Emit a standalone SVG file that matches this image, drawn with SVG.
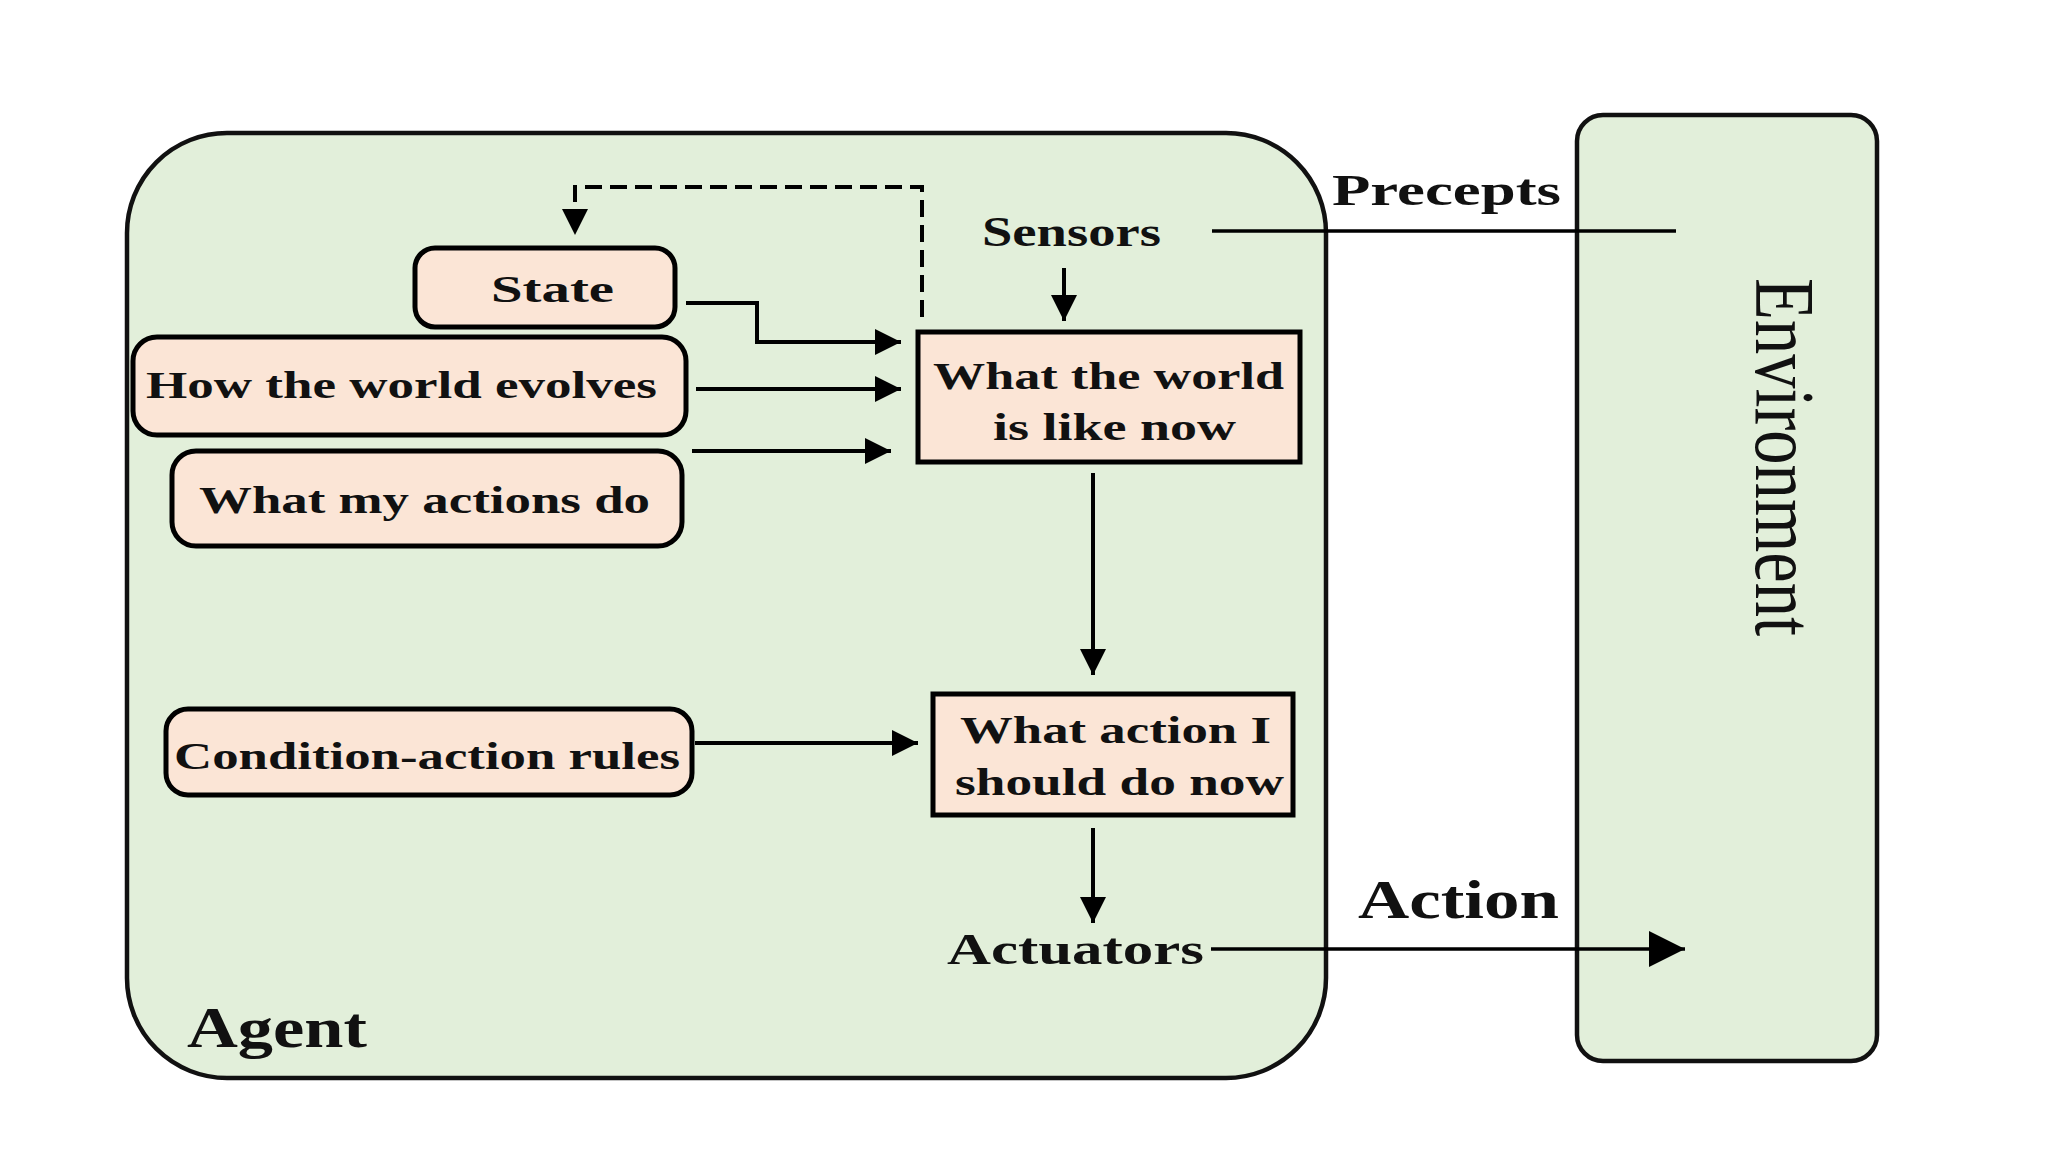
<svg xmlns="http://www.w3.org/2000/svg" width="2048" height="1152" viewBox="0 0 2048 1152">
<defs>
<style>
.container{fill:#e2efda;stroke:#111;stroke-width:4.5}
.node{fill:#fbe5d6;stroke:#000;stroke-width:5}
.t{font-family:"Liberation Serif",serif;font-weight:bold;fill:#111}
.reg{font-weight:normal}
.conn{fill:none;stroke:#000;stroke-width:4}
.thin{fill:none;stroke:#000;stroke-width:3.5}
.dash{fill:none;stroke:#000;stroke-width:4;stroke-dasharray:17 8}
</style>
<marker id="ah" markerUnits="userSpaceOnUse" markerWidth="28" markerHeight="26" refX="26" refY="13" orient="auto">
<path d="M0,0 L26,13 L0,26 Z" fill="#000"/>
</marker>
<marker id="ahBig" markerUnits="userSpaceOnUse" markerWidth="38" markerHeight="36" refX="36" refY="18" orient="auto">
<path d="M0,0 L36,18 L0,36 Z" fill="#000"/>
</marker>
</defs>
<rect width="2048" height="1152" fill="#fff"/>

<g id="agent">
<rect class="container" x="127" y="133" width="1199" height="945" rx="100" ry="100"/>
<text class="t" x="187" y="1047" font-size="56" textLength="180" lengthAdjust="spacingAndGlyphs">Agent</text>
</g>

<g id="environment">
<rect class="container" x="1577" y="115" width="300" height="946" rx="26" ry="26"/>
<text class="t reg" font-size="84" transform="translate(1756,278) rotate(90)" textLength="358" lengthAdjust="spacingAndGlyphs">Environment</text>
</g>

<g id="state">
<rect class="node" x="415" y="248" width="260" height="79" rx="20" ry="20"/>
<text class="t" x="491" y="302" font-size="38" textLength="123" lengthAdjust="spacingAndGlyphs">State</text>
</g>

<g id="how-world-evolves">
<rect class="node" x="133" y="337" width="553" height="98" rx="24" ry="24"/>
<text class="t" x="146" y="398" font-size="38" textLength="511" lengthAdjust="spacingAndGlyphs">How the world evolves</text>
</g>

<g id="what-my-actions-do">
<rect class="node" x="172" y="451" width="510" height="95" rx="24" ry="24"/>
<text class="t" x="199" y="513" font-size="38" textLength="451" lengthAdjust="spacingAndGlyphs">What my actions do</text>
</g>

<g id="condition-action-rules">
<rect class="node" x="166" y="709" width="526" height="86" rx="22" ry="22"/>
<text class="t" x="174" y="769" font-size="38" textLength="506" lengthAdjust="spacingAndGlyphs">Condition-action rules</text>
</g>

<g id="world-now">
<rect class="node" x="918" y="332" width="382" height="130"/>
<text class="t" x="933" y="389" font-size="38" textLength="351" lengthAdjust="spacingAndGlyphs">What the world</text>
<text class="t" x="993" y="440" font-size="38" textLength="243" lengthAdjust="spacingAndGlyphs">is like now</text>
</g>

<g id="action-now">
<rect class="node" x="933" y="694" width="360" height="121"/>
<text class="t" x="960" y="743" font-size="38" textLength="311" lengthAdjust="spacingAndGlyphs">What action I</text>
<text class="t" x="955" y="795" font-size="38" textLength="329" lengthAdjust="spacingAndGlyphs">should do now</text>
</g>

<g id="sensors">
<text class="t" x="982" y="246" font-size="42" textLength="179" lengthAdjust="spacingAndGlyphs">Sensors</text>
</g>

<g id="actuators">
<text class="t" x="947" y="964" font-size="44" textLength="257" lengthAdjust="spacingAndGlyphs">Actuators</text>
</g>

<g id="connectors">
<path class="conn" d="M686,303 H757 V342 H901" marker-end="url(#ah)"/>
<path class="conn" d="M696,389 H901" marker-end="url(#ah)"/>
<path class="conn" d="M692,451 H891" marker-end="url(#ah)"/>
<path class="dash" d="M922,317 V187 H575 V235" marker-end="url(#ah)"/>
<path class="conn" d="M1064,268 V321" marker-end="url(#ah)"/>
<path class="conn" d="M1093,473 V675" marker-end="url(#ah)"/>
<path class="conn" d="M695,743 H918" marker-end="url(#ah)"/>
<path class="conn" d="M1093,828 V923" marker-end="url(#ah)"/>
<path class="thin" d="M1212,231 H1676"/>
<path class="thin" d="M1211,949 H1685" marker-end="url(#ahBig)"/>
<text class="t" x="1332" y="205" font-size="44" textLength="229" lengthAdjust="spacingAndGlyphs">Precepts</text>
<text class="t" x="1358" y="918" font-size="54" textLength="201" lengthAdjust="spacingAndGlyphs">Action</text>
</g>
</svg>
